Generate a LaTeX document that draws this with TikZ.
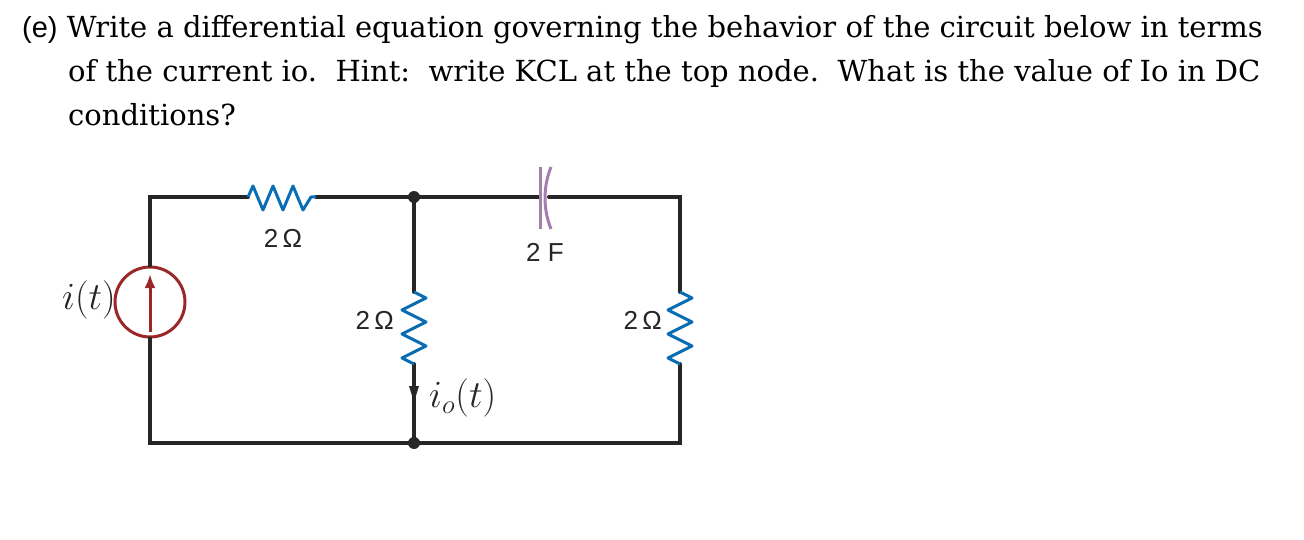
\documentclass[tikz,border=0pt]{standalone}
\usepackage{fontspec}
\usetikzlibrary{arrows.meta}
\setmainfont{DejaVu Serif}
\newfontfamily\lsans{Liberation Sans}
\begin{document}
\begin{tikzpicture}[x=1pt,y=-1pt,
  wire/.style={line width=4pt,color=black!85,line cap=round},
  resist/.style={line width=3pt,color=rescol,line join=round},
  lab/.style={font=\lsans\fontsize{26}{26}\selectfont,color=black!85,inner sep=0pt},
  mlab/.style={font=\huge,color=black!85,inner sep=0pt},
  hdr/.style={font=\fontsize{29}{29}\selectfont,anchor=base west,inner sep=0pt}]
\definecolor{rescol}{RGB}{10,110,180}
\definecolor{capcol}{RGB}{165,125,175}
\definecolor{srccol}{RGB}{155,40,40}
\useasboundingbox (0,0) rectangle (1304,540);
\node[hdr] (h1) at (22,38) {{\lsans (e)} Write a differential equation governing the behavior of the circuit below in terms};
\node[hdr] (h2) at (68,82) {of the current io.\ \ Hint:\ \ write KCL at the top node.\ \ What is the value of Io in DC};
\node[hdr] (h3) at (68,126) {conditions?};
% nodes
\coordinate (tl) at (150,197); \coordinate (tm) at (414,197); \coordinate (tr) at (680,197);
\coordinate (bl) at (150,443); \coordinate (bm) at (414,443); \coordinate (br) at (680,443);
\coordinate (r1a) at (248,197); \coordinate (r1b) at (316,197);
\coordinate (ca) at (540,197); \coordinate (cb) at (549,197);
\coordinate (r2a) at (414,292); \coordinate (r2b) at (414,364);
\coordinate (r3a) at (680,292); \coordinate (r3b) at (680,364);
\node[circle,draw=srccol,line width=3pt,minimum size=70pt,inner sep=0pt] (src) at (150,302) {};
% wires
\draw[wire] (src.south) -- (bl) -- (br) -- (r3b);
\draw[wire] (src.north) -- (tl) -- (r1a);
\draw[wire] (r1b) -- (tm) -- (ca);
\draw[wire] (cb) -- (tr) -- (r3a);
\draw[wire] (tm) -- (r2a);
\draw[wire] (r2b) -- (bm);
% resistors
\draw[resist] (r1a) -- ++(5,-11) -- ++(10,24) -- ++(10,-24) -- ++(10,24) -- ++(10,-24) -- ++(10,24) -- ++(8,-13) -- (r1b);
\draw[resist] (r2a) -- ++(12,6) -- ++(-24,12) -- ++(24,12) -- ++(-24,12) -- ++(24,12) -- ++(-24,12) -- (r2b);
\draw[resist] (r3a) -- ++(12,6) -- ++(-24,12) -- ++(24,12) -- ++(-24,12) -- ++(24,12) -- ++(-24,12) -- (r3b);
% capacitor
\draw[line width=3pt,capcol] (540,167) -- (540,229);
\draw[line width=3pt,capcol] (551,167) .. controls (543,187) and (543,209) .. (551,229);
% source arrow
\draw[line width=3pt,srccol,-{Latex[length=14pt,width=11pt]}] (src.center)++(0,30) -- ++(0,-58);
% junction dots
\fill[black!85] (tm) circle (6pt) (bm) circle (6pt);
% io arrow
\fill[black!85] (409,386) -- (419,386) -- (414,402) -- cycle;
% labels
\node[lab] (l1) at (283,238) {2\,Ω};
\node[lab,anchor=east] (l2) at (394,320) {2\,Ω};
\node[lab] (l3) at (545,252) {2 F};
\node[lab,anchor=east] (l4) at (662,320) {2\,Ω};
\node[mlab,anchor=east] (li) at (116,300) {\scalebox{1.85}{$i(t)$}};
\node[mlab,anchor=west] (lo) at (429,398) {\scalebox{1.85}{$i_o(t)$}};
\end{tikzpicture}
\end{document}
